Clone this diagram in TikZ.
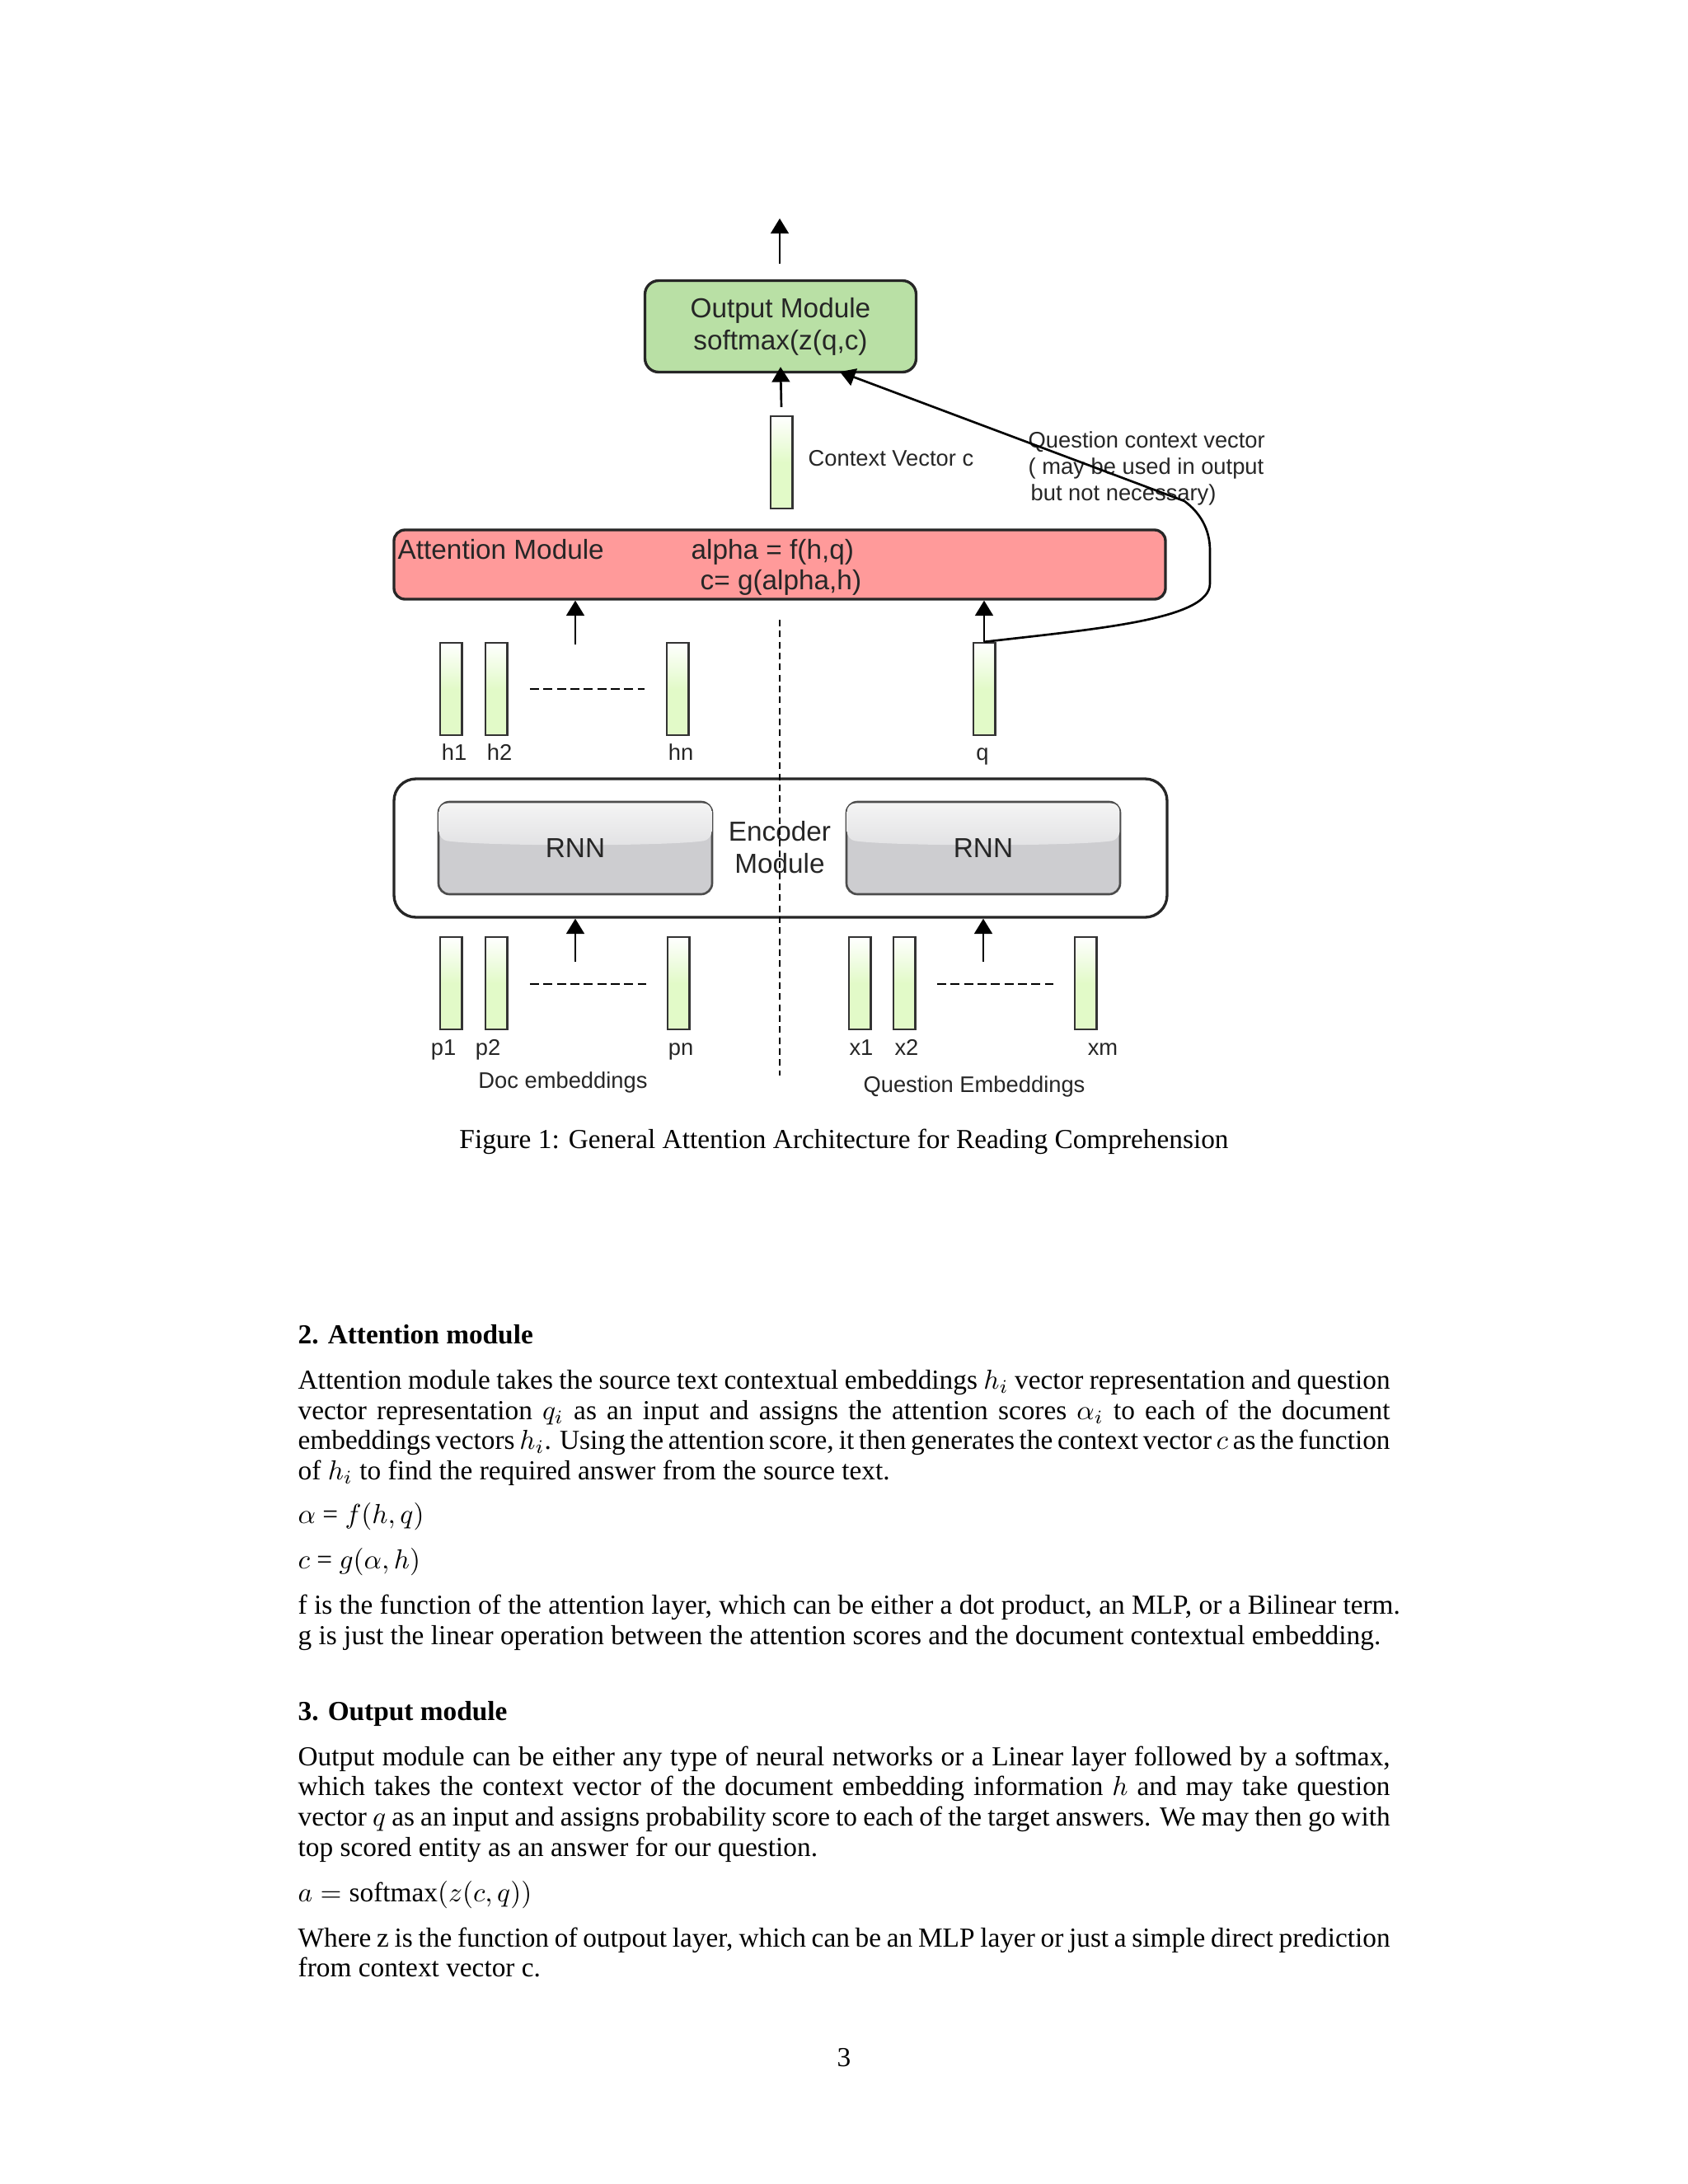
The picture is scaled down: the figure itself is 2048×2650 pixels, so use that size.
\documentclass[tikz,border=0pt]{standalone}
\usepackage{fontspec}
\setmainfont{Liberation Serif}
\newfontfamily\dsf{Liberation Sans}
\usetikzlibrary{arrows.meta,calc}
\definecolor{outgreen}{HTML}{B9E0A5}
\definecolor{attred}{HTML}{FF9A9A}
\definecolor{barbot}{HTML}{E2FAC8}
\definecolor{rnnbot}{HTML}{CDCDD0}
\definecolor{rnntop}{HTML}{F4F4F4}
\definecolor{rnnmid}{HTML}{E2E2E4}
\definecolor{dtext}{HTML}{262626}
\begin{document}
\begin{tikzpicture}[x=0.3pt,y=-0.3pt,
  lbl/.style={font=\dsf\fontsize{10}{11.7}\selectfont, text=dtext, inner sep=0},
  slbl/.style={font=\dsf\fontsize{8.2}{9.6}\selectfont, text=dtext, inner sep=0},
  bar/.style={draw=black!80, line width=0.7pt, top color=white, bottom color=barbot, middle color=barbot, minimum width=8pt, minimum height=33.6pt, inner sep=0},
  outbox/.style={draw=black!85, line width=1pt, fill=outgreen, rounded corners=5pt, minimum width=98.7pt, minimum height=33.3pt, align=center, font=\dsf\fontsize{10}{11.7}\selectfont, text=dtext, inner sep=0},
  attbox/.style={draw=black!85, line width=1pt, fill=attred, rounded corners=4pt, minimum width=280.8pt, minimum height=25.2pt, inner sep=0},
  encbox/.style={draw=black!85, line width=1pt, fill=white, rounded corners=8pt, minimum width=281.4pt, minimum height=50.4pt, inner sep=0},
  rnnbox/.style={draw=black!70, line width=0.8pt, fill=rnnbot, rounded corners=4pt, minimum width=99.6pt, minimum height=33.6pt, inner sep=0},
  arr/.style={-{Triangle[length=5.5pt,width=6.5pt]}, line width=0.8pt, black},
  hdash/.style={line width=0.7pt, dash pattern=on 3.3pt off 1.6pt},
  vdash/.style={line width=0.5pt, dash pattern=on 2.4pt off 1.6pt},
  body/.style={font=\fontsize{10}{11}\selectfont, inner sep=0, anchor=base west},
  bhead/.style={font=\fontsize{10}{11}\selectfont\bfseries, inner sep=0, anchor=base west}
]
\fill[white] (0,0) rectangle (2048,2650);
\useasboundingbox (0,0) rectangle (2048,2650);

% ---------- Output module ----------
\node[outbox] (out) at (947,396) {Output Module\\softmax(z(q,c)};
\coordinate (topS) at (946,320);
\coordinate (topT) at (946,265);
\draw[arr] (topS) -- (topT);

% context vector
\node[bar] (cv) at (948,561) {};
\node[slbl, anchor=base west] (cvl) at (980,565) {Context Vector c};
\draw[arr] ($(cv.north)+(0,-10)$) -- ($(out.south)+(0,-8)$);

% question context vector label
\node[slbl, anchor=base west] (qc1) at (1247,543) {Question context vector};
\node[slbl, anchor=base west] (qc2) at (1247,575) {( may be used in output};
\node[slbl, anchor=base west] (qc3) at (1250,607) {but not necessary)};

% ---------- Attention module ----------
\node[attbox] (att) at (946,685) {};
\node[lbl, anchor=base west] (attl) at (482,678) {Attention Module};
\node[lbl, anchor=base west] (alph) at (838,678) {alpha = f(h,q)};
\node[lbl, anchor=base west] (cfun) at (849,715) {c= g(alpha,h)};

% h bars
\node[bar] (h1) at (547,836) {};
\node[bar] (h2) at (602,836) {};
\node[bar] (hn) at (822,836) {};
\node[bar] (qb) at (1194,836) {};
\node[slbl, anchor=base] (h1l) at (551,922) {h1};
\node[slbl, anchor=base] (h2l) at (606,922) {h2};
\node[slbl, anchor=base] (hnl) at (826,922) {hn};
\node[slbl, anchor=base] (ql) at (1192,922) {q};
\coordinate (hd1) at (643,836);
\coordinate (hd2) at (782,836);
\draw[hdash] (hd1) -- (hd2);

\coordinate (ha) at (698,782);
\draw[arr] (ha) -- (ha |- att.south);
\draw[arr] (qb.north) -- (qb.north |- att.south);

% question context curve
\draw[arr] (qb.north) .. controls (1330,763) and (1468,752) .. (1468,708)
  -- (1468,668) .. controls (1468,642) and (1456,622) .. (1437,608)
  -- ($(out.south)+(72,-2)$);

% ---------- Encoder module ----------
\node[encbox] (enc) at (947,1029) {};
\node[rnnbox] (rnnL) at (698,1029) {};
\node[rnnbox] (rnnR) at (1193,1029) {};
\foreach \n in {rnnL,rnnR}{
  \shade[top color=rnntop, bottom color=rnnmid, rounded corners=3pt]
    ($(\n.north west)+(2,3)$) -- ($(\n.north east)+(-2,3)$) -- ($(\n.east)+(-2,-10)$)
    .. controls ($(\n.east)+(-60,-2)$) and ($(\n.west)+(60,-2)$) .. ($(\n.west)+(2,-10)$) -- cycle;
}
\node[lbl] (rnnLt) at (rnnL) {RNN};
\node[lbl] (rnnRt) at (rnnR) {RNN};
\node[lbl, anchor=base] (enc1) at (946,1020) {Encoder};
\node[lbl, anchor=base] (enc2) at (946,1059) {Module};

% p and x bars
\node[bar] (p1) at (547,1193) {};
\node[bar] (p2) at (602,1193) {};
\node[bar] (pn) at (823,1193) {};
\node[bar] (x1) at (1043,1193) {};
\node[bar] (x2) at (1097,1193) {};
\node[bar] (xm) at (1317,1193) {};
\node[slbl, anchor=base] (p1l) at (538,1280) {p1};
\node[slbl, anchor=base] (p2l) at (592,1280) {p2};
\node[slbl, anchor=base] (pnl) at (826,1280) {pn};
\node[slbl, anchor=base] (x1l) at (1045,1280) {x1};
\node[slbl, anchor=base] (x2l) at (1100,1280) {x2};
\node[slbl, anchor=base] (xml) at (1338,1280) {xm};
\node[slbl, anchor=base] (docl) at (683,1320) {Doc embeddings};
\node[slbl, anchor=base] (qel) at (1182,1325) {Question Embeddings};
\coordinate (pd1) at (643,1194);
\coordinate (pd2) at (784,1194);
\coordinate (xd1) at (1137,1194);
\coordinate (xd2) at (1278,1194);
\draw[hdash] (pd1) -- (pd2);
\draw[hdash] (xd1) -- (xd2);
\coordinate (pa) at (698,1167);
\coordinate (xa) at (1193,1167);
\draw[arr] (pa) -- (pa |- enc.south);
\draw[arr] (xa) -- (xa |- enc.south);

% central dashed divider
\coordinate (vd1) at (946,752);
\coordinate (vd2) at (946,1305);
\draw[vdash] (vd1) -- (vd2);

% ---------- caption and body text ----------
\node[body, anchor=base] (cap) at (1024,1393) {Figure 1: General Attention Architecture for Reading Comprehension};

\node[bhead] (s2) at (361,1630) {2. Attention module};
\node[body] (a1) at (361,1685) {\hbox to 397.5pt{Attention module takes the source text contextual embeddings $h_i$ vector representation and question}};
\node[body] (a2) at (361,1722) {\hbox to 397.5pt{vector representation $q_i$ as an input and assigns the attention scores $\alpha_i$ to each of the document}};
\node[body] (a3) at (361,1758) {\hbox to 397.5pt{embeddings vectors $h_i$. Using the attention score, it then generates the context vector $c$ as the function}};
\node[body] (a4) at (361,1795) {of $h_i$ to find the required answer from the source text.};
\node[body] (e1) at (361,1848) {$\alpha$ = $f(h,q)$};
\node[body] (e2) at (361,1903) {$c$ = $g(\alpha,h)$};
\node[body] (f1) at (361,1958) {f is the function of the attention layer, which can be either a dot product, an MLP, or a Bilinear term.};
\node[body] (f2) at (361,1995) {g is just the linear operation between the attention scores and the document contextual embedding.};

\node[bhead] (s3) at (361,2087) {3. Output module};
\node[body] (o1) at (361,2142) {\hbox to 397.5pt{Output module can be either any type of neural networks or a Linear layer followed by a softmax,}};
\node[body] (o2) at (361,2178) {\hbox to 397.5pt{which takes the context vector of the document embedding information $h$ and may take question}};
\node[body] (o3) at (361,2215) {\hbox to 397.5pt{vector $q$ as an input and assigns probability score to each of the target answers. We may then go with}};
\node[body] (o4) at (361,2252) {top scored entity as an answer for our question.};
\node[body] (e3) at (361,2307) {$a=\mbox{softmax}(z(c,q))$};
\node[body] (w1) at (361,2362) {\hbox to 397.5pt{Where z is the function of outpout layer, which can be an MLP layer or just a simple direct prediction}};
\node[body] (w2) at (361,2398) {from context vector c.};

\node[body, anchor=base] (pg) at (1024,2507) {3};
\end{tikzpicture}
\end{document}
